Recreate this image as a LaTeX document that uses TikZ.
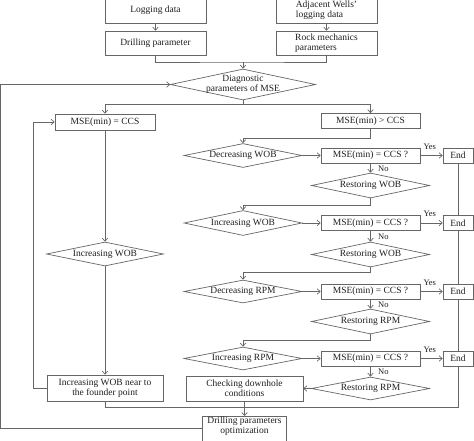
\documentclass[tikz,border=0pt]{standalone}
\usepackage{fontspec}
\setmainfont{Liberation Serif}
\usetikzlibrary{shapes.geometric,arrows.meta}
\definecolor{ln}{HTML}{666666}
\definecolor{tx}{HTML}{1E1E1E}
\begin{document}
\begin{tikzpicture}[x=1pt,y=-1pt,
 font=\fontsize{9.5}{10}\selectfont, text=tx,
 box/.style={draw=ln, line width=0.7pt, rectangle, inner sep=1pt, align=center},
 dia/.style={draw=ln, line width=0.7pt, diamond, inner sep=0pt, minimum width=118pt, minimum height=24pt},
 lab/.style={inner sep=0pt, align=center},
 arr/.style={draw=ln, line width=0.7pt, -{Straight Barb[length=3pt,width=5.5pt]}},
 con/.style={draw=ln, line width=0.7pt},
 yn/.style={inner sep=0pt, font=\fontsize{8.5}{9}\selectfont},
 qbox/.style={box, minimum width=99pt, minimum height=15pt},
 ebox/.style={box, minimum width=30pt, minimum height=15pt}
]
\useasboundingbox (0,0) rectangle (474,441);
\clip (0,0) rectangle (474,441);

% top
\node[box, minimum width=101pt, minimum height=25pt] (log) at (155.5,10.5) {Logging data};
\node[box, minimum width=101pt, minimum height=25pt, align=left] (adj) at (326.5,10.5) {Adjacent Wells'\\logging data};
\node[box, minimum width=101pt, minimum height=24pt] (drp) at (155.5,43) {Drilling parameter};
\node[box, minimum width=101pt, minimum height=24pt, align=left] (rock) at (326.5,43) {Rock mechanics\\parameters};
\draw[arr] (log.south) -- (drp.north);
\draw[arr] (adj.south) -- (rock.north);

\node[dia, minimum width=145pt, minimum height=31pt] (diag) at (243,84.5) {};
\node[lab] (diagT) at (diag) {Diagnostic\\parameters of MSE};
\coordinate (m1) at (243,62);
\draw[con] (drp.south) |- (m1) -| (rock.south);
\draw[arr] (m1) -- (diag.north);

% split
\node[box, minimum width=100pt, minimum height=16pt] (eq) at (105,122) {MSE(min) = CCS};
\node[qbox] (gt) at (370.5,121) {MSE(min) > CCS};
\coordinate (m2) at (243,104);
\draw[con] (diag.south) -- (m2);
\draw[arr] (m2) -| (eq.north);
\draw[arr] (m2) -| (gt.north);

% right column rows
\node[dia] (dw) at (243,155.5) {};
\node[lab] (dwT) at (dw) {Decreasing WOB};
\node[qbox] (q1) at (370.5,155.5) {MSE(min) = CCS ?};
\node[ebox] (end1) at (458,155.5) {End};
\node[dia, minimum height=25pt] (rw1) at (370.5,185.5) {};
\node[lab] (rw1T) at (rw1) {Restoring WOB};

\node[dia, minimum height=25pt] (iw) at (243,223) {};
\node[lab] (iwT) at (iw) {Increasing WOB};
\node[qbox] (q2) at (370.5,223) {MSE(min) = CCS ?};
\node[ebox] (end2) at (458,223) {End};
\node[dia, minimum height=25pt] (rw2) at (370.5,254.5) {};
\node[lab] (rw2T) at (rw2) {Restoring WOB};

\node[dia, minimum height=23pt] (dr) at (243,291.5) {};
\node[lab] (drT) at (dr) {Decreasing RPM};
\node[qbox] (q3) at (370.5,291.5) {MSE(min) = CCS ?};
\node[ebox] (end3) at (458,291.5) {End};
\node[dia, minimum height=25pt] (rr1) at (370.5,321.5) {};
\node[lab] (rr1T) at (rr1) {Restoring RPM};

\node[dia, minimum height=23pt] (ir) at (243,358.5) {};
\node[lab] (irT) at (ir) {Increasing RPM};
\node[qbox] (q4) at (370.5,358.5) {MSE(min) = CCS ?};
\node[ebox] (end4) at (458,358.5) {End};
\node[dia, minimum height=23pt] (rr2) at (370.5,388.5) {};
\node[lab] (rr2T) at (rr2) {Restoring RPM};

\coordinate (m3) at (370.5,138);
\draw[con] (gt.south) -- (m3);
\draw[arr] (m3) -| (dw.north);

\foreach \d/\q/\e/\r [count=\i] in {dw/q1/end1/rw1, iw/q2/end2/rw2, dr/q3/end3/rr1, ir/q4/end4/rr2}{
  \draw[arr] (\d.east) -- (\q.west);
  \draw[arr] (\q.east) -- (\e.west);
  \draw[arr] (\q.south) -- (\r.north);
  \node[yn, anchor=south west] (yes\i) at ([xshift=3pt,yshift=-2pt]\q.north east) {Yes};
  \node[yn, anchor=west] (no\i) at ([xshift=7.5pt,yshift=-5.5pt]\q.south) {No};
}

\coordinate (d1) at (370.5,205);
\draw[con] (rw1.south) -- (d1);
\draw[arr] (d1) -| (iw.north);
\coordinate (d2) at (370.5,272);
\draw[con] (rw2.south) -- (d2);
\draw[arr] (d2) -| (dr.north);
\coordinate (d3) at (370.5,340);
\draw[con] (rr1.south) -- (d3);
\draw[arr] (d3) -| (ir.north);

% bottom
\node[box, minimum width=117pt, minimum height=25pt] (chk) at (244.5,388.5) {Checking downhole\\conditions};
\draw[arr] (rr2.west) -- (chk.east);
\node[box, minimum width=84pt, minimum height=30pt, anchor=north] (opt) at (244.5,416) {};
\node[lab] (optT) at (244.5,426) {Drilling parameters\\optimization};
\draw[arr] (chk.south) -- (opt.north);

% left column
\node[dia, minimum width=117pt] (iwL) at (105,254) {};
\node[lab] (iwLT) at (iwL) {Increasing WOB};
\node[box, minimum width=116pt, minimum height=26pt] (near) at (105,388) {Increasing WOB near to\\the founder point};
\draw[arr] (eq.south) -- (iwL.north);
\draw[arr] (iwL.south) -- (near.north);
\coordinate (lp1) at (33,388);
\coordinate (lp2) at (33,122);
\draw[arr] (near.west) -- (lp1) -- (lp2) -- (eq.west);

% merge line
\coordinate (cR) at (458,407.5);
\coordinate (cL) at (105,407.5);
\draw[con] (end1.south) -- (end2.north);
\draw[con] (end2.south) -- (end3.north);
\draw[con] (end3.south) -- (end4.north);
\draw[con] (end4.south) -- (cR) -- (cL) -- (near.south);

% feedback
\coordinate (fb1) at (0.5,428);
\coordinate (fb2) at (0.5,84.5);
\draw[arr] (opt.west |- fb1) -- (fb1) -- (fb2) -- (diag.west);
\end{tikzpicture}
\end{document}
